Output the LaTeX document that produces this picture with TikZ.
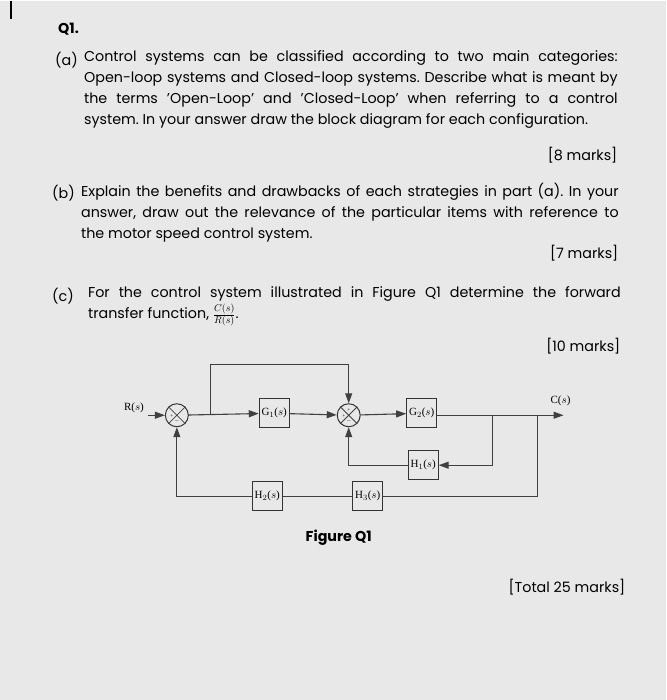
\documentclass[tikz,border=0pt]{standalone}
\usepackage{fontspec}
\setmainfont{Poppins}
\newfontfamily\diagfont{Liberation Serif}
\usetikzlibrary{arrows.meta}
\begin{document}
\frenchspacing
\begin{tikzpicture}[x=1pt,y=-1pt,
  para/.style={anchor=north west,inner sep=0pt,align=justify,font=\fontsize{14.3}{21}\selectfont\frenchspacing},
  txt/.style={inner sep=0pt,font=\fontsize{14.3}{15}\selectfont},
  blk/.style={draw=black!80,line width=1pt,minimum width=30pt,minimum height=29pt,inner sep=0pt,font=\diagfont\fontsize{11}{12}\selectfont},
  sumj/.style={draw=black!80,line width=1pt,circle,minimum size=23pt,inner sep=0pt},
  ln/.style={draw=black!75,line width=1.1pt},
  arr/.style={ln,-{Triangle[length=10pt,width=7pt]}},
  lab/.style={inner sep=0pt,font=\diagfont\fontsize{11}{12}\selectfont}]
\fill[black!9] (0,0) rectangle (667,700);
\draw[line width=1.2pt] (11,0) -- (11,18);
\node[txt,anchor=west,font=\bfseries\fontsize{14.3}{15}\selectfont] (q) at (58,29) {Q1.};
\node[txt,anchor=west] (la) at (55,60) {(a)};
\node[para,text width=534pt] (pa) at (84,50) {Control systems can be classified according to two main categories:\linebreak Open-loop systems and Closed-loop systems. Describe what is meant by\linebreak the terms 'Open-Loop' and 'Closed-Loop' when referring to a control\linebreak system. In your answer draw the block diagram for each configuration.};
\node[txt,anchor=east] (ma) at (618,155) {[8 marks]};
\node[txt,anchor=west] (lb) at (52,193) {(b)};
\node[para,text width=538pt] (pb) at (81,183) {Explain the benefits and drawbacks of each strategies in part (a). In your\linebreak answer, draw out the relevance of the particular items with reference to\linebreak the motor speed control system.};
\node[txt,anchor=east] (mb) at (619,253) {[7 marks]};
\node[txt,anchor=west] (lc) at (52,296) {(c)};
\node[para,text width=533pt] (pc) at (88,286) {For the control system illustrated in Figure Q1 determine the forward\linebreak transfer function, $\frac{C(s)}{R(s)}$.};
\node[txt,anchor=east] (mc) at (621,346) {[10 marks]};
\node[txt,font=\bfseries\fontsize{14.3}{15}\selectfont] (fig) at (339,538) {Figure Q1};
\node[txt,anchor=east] (tot) at (626,587) {[Total 25 marks]};
% diagram
\node[sumj] (s1) at (177,415) {};
\node[sumj] (s2) at (349,415) {};
\foreach \s in {s1,s2}{
  \draw[ln,line width=0.8pt] (\s.north west) -- (\s.south east) (\s.north east) -- (\s.south west);}
\node[lab,font=\diagfont\fontsize{5}{6}\selectfont] at (172,416) {+};
\node[lab,font=\diagfont\fontsize{5}{6}\selectfont] at (177,421) {$-$};
\node[lab,font=\diagfont\fontsize{5}{6}\selectfont] at (344,416) {+};
\node[lab,font=\diagfont\fontsize{5}{6}\selectfont] at (349,410) {+};
\node[lab,font=\diagfont\fontsize{5}{6}\selectfont] at (349,421) {$-$};
\node[blk] (g1) at (274.5,413) {G$_1$($s$)};
\node[blk] (g2) at (422,413) {G$_2$($s$)};
\node[blk] (h1) at (423.5,465) {H$_1$($s$)};
\node[blk] (h2) at (267.5,496) {H$_2$($s$)};
\node[blk] (h3) at (368,496) {H$_3$($s$)};
\node[lab,anchor=west] (rl) at (124,408) {R($s$)};
\node[lab] (cl) at (561,401) {C($s$)};
\coordinate (rin) at (148,415);
\coordinate (b1) at (211,415);
\coordinate (b2) at (493,415);
\coordinate (b3) at (538,415);
\coordinate (out) at (564,415);
\draw[arr] (rin) -- (s1);
\draw[arr] (s1) -- (g1);
\draw[arr] (b1) |- (211,364) -| (s2);
\draw[arr] (g1) -- (s2);
\draw[arr] (s2) -- (g2);
\draw[arr] (g2.east|-b3) -- (out);
\draw[arr] (b2) |- (h1);
\draw[arr] (h1) -| (s2);
\draw[ln] (b3) |- (h3);
\draw[ln] (h3) -- (h2);
\draw[arr] (h2) -| (s1);
\end{tikzpicture}
\end{document}
